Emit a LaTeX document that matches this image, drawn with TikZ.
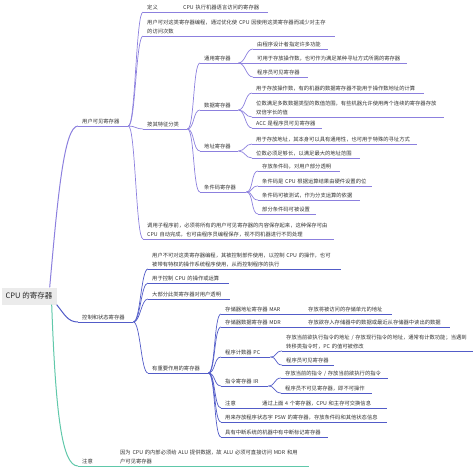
\documentclass[tikz,border=0pt]{standalone}
\usepackage{fontspec}
\setmainfont{Noto Sans CJK SC}

\begin{document}
\begin{tikzpicture}[x=1pt,y=-1pt,
    item/.style={anchor=south west, align=left, inner xsep=4pt, inner ysep=1.5pt,
        font=\fontsize{5.3pt}{9.3pt}\selectfont, text=black!80},
    rootbox/.style={fill=black!8, minimum width=55pt, minimum height=17pt, inner sep=2pt,
        font=\fontsize{7.5pt}{9pt}\selectfont, text=black!85},
    lnP/.style={draw={rgb,255:red,140;green,128;blue,222}, line width=0.7pt},
    lnB/.style={draw={rgb,255:red,82;green,92;blue,200}, line width=0.7pt},
    lnT/.style={draw={rgb,255:red,96;green,200;blue,170}, line width=0.7pt}]
    % --- 参数定义 ---
    \def\k{7}   % 连线控制点的水平距离

    \useasboundingbox (0,0) rectangle (474,475);

    % --- 1. 根节点 ---
    \node[rootbox] (root) at (29,296) {CPU 的寄存器};

    % --- 2. 用户可见寄存器 ---
    \node[item, text width=42] (user) at (78,126) {用户可见寄存器};
    \node[item, text width=28] (def) at (143,12) {定义};
    \node[item, text width=81] (defv) at (179,12) {CPU 执行机器语言访问的寄存器};
    \node[item, text width=184] (prog) at (143,36) {用户可对这类寄存器编程，通过优化使 CPU 因使用这类寄存器而减少对主存\\的访问次数};
    \node[item, text width=36] (feat) at (143,129) {按其特征分类};
    \node[item, text width=183] (save) at (143,239) {调用子程序前，必须将所有的用户可见寄存器的内容保存起来，这种保存可由\\CPU 自动完成，也可由程序员编程保存，视不同机器进行不同处理};

    % 通用寄存器
    \node[item, text width=30] (gen) at (200,63) {通用寄存器};
    \node[item, text width=67] (g1) at (253,49) {由程序设计者指定许多功能};
    \node[item, text width=146] (g2) at (253,63) {可用于存放操作数，也可作为满足某种寻址方式所需的寄存器};
    \node[item, text width=47] (g3) at (253,77) {程序员可见寄存器};

    % 数据寄存器
    \node[item, text width=30] (dat) at (200,110) {数据寄存器};
    \node[item, text width=164] (d1) at (252,93) {用于存放操作数，有的机器的数据寄存器不能用于操作数地址的计算};
    \node[item, text width=184] (d2) at (252,117) {位数满足多数数据类型的数值范围，有些机器允许使用两个连续的寄存器存放\\双倍字长的值};
    \node[item, text width=62] (d3) at (252,128) {ACC 是程序员可见寄存器};

    % 地址寄存器
    \node[item, text width=30] (adr) at (200,151) {地址寄存器};
    \node[item, text width=157] (a1) at (252,144) {用于存放地址，其本身可以具有通用性，也可用于特殊的寻址方式};
    \node[item, text width=100] (a2) at (252,158) {位数必须足够长，以满足最大的地址范围};

    % 条件码寄存器
    \node[item, text width=38] (cc) at (200,192) {条件码寄存器};
    \node[item, text width=74] (c1) at (258,171) {存放条件码，对用户部分透明};
    \node[item, text width=106] (c2) at (258,186) {条件码是 CPU 根据运算结果由硬件设置的位};
    \node[item, text width=94] (c3) at (258,200) {条件码可被测试，作为分支运算的依据};
    \node[item, text width=50] (c4) at (258,214) {部分条件码可被设置};

    % --- 3. 控制和状态寄存器 ---
    \node[item, text width=47] (ctl) at (78,322) {控制和状态寄存器};
    \node[item, text width=185] (k1) at (148,269) {用户不可对这类寄存器编程，其被控制部件使用，以控制 CPU 的操作，也可\\被带有特权的操作系统程序使用，从而控制程序的执行};
    \node[item, text width=73] (k2) at (148,283) {用于控制 CPU 的操作或运算};
    \node[item, text width=74] (k3) at (148,299) {大部分此类寄存器对用户透明};
    \node[item, text width=52] (imp) at (148,373) {有重要作用的寄存器};

    \node[item, text width=75] (mar) at (221,314) {存储器地址寄存器 MAR};
    \node[item, text width=80] (marv) at (304,314) {存放将被访问的存储单元的地址};
    \node[item, text width=75] (mdr) at (221,327) {存储器数据寄存器 MDR};
    \node[item, text width=138] (mdrv) at (304,327) {存放欲存入存储器中的数据或最近从存储器中读出的数据};
    \node[item, text width=41] (pc) at (221,357) {程序计数器 PC};
    \node[item, text width=183] (p1) at (282,351) {存放当前欲执行指令的地址 / 存放现行指令的地址，通常有计数功能；当遇到\\转移类指令时，PC 的值可被修改};
    \node[item, text width=44] (p2) at (282,365) {程序员可见寄存器};
    \node[item, text width=39] (ir) at (221,386) {指令寄存器 IR};
    \node[item, text width=99] (i1) at (281,378) {存放当前的指令 / 存放当前欲执行的指令};
    \node[item, text width=83] (i2) at (281,393) {程序员不可见寄存器，即不可操作};
    \node[item, text width=29] (tip) at (221,408) {注意};
    \node[item, text width=121] (tipv) at (258,408) {通过上面 4 个寄存器，CPU 和主存可交换信息};
    \node[item, text width=158] (psw) at (221,422) {用来存放程序状态字 PSW 的寄存器，存放条件码和其他状态信息};
    \node[item, text width=99] (intr) at (221,437) {具有中断系统的机器中有中断标记寄存器};

    % --- 4. 注意 ---
    \node[item, text width=30] (caution) at (78,466) {注意};
    \node[item, text width=185] (cautionv) at (116,466) {因为 CPU 的内部必须给 ALU 提供数据，故 ALU 必须可直接访问 MDR 和用\\户可见寄存器};

    % --- 5. 根节点的三条主干 ---
    \draw[lnP, line width=1pt] ([xshift=-7pt]root.north east) .. controls +(8,-90) and +(-14,0) .. (user.south west);
    \draw[lnB, line width=1pt] (root.south east) .. controls +(8,10) and +(-10,0) .. (ctl.south west);
    \draw[lnT, line width=1pt] ([xshift=-5pt]root.south east) .. controls +(4,110) and +(-16,0) .. (caution.south west);

    % --- 6. 下划线 ---
    \foreach \n in {user,def,defv,prog,feat,save,gen,g1,g2,g3,dat,d1,d2,d3,adr,a1,a2,cc,c1,c2,c3,c4}
        \draw[lnP] (\n.south west) -- (\n.south east);
    \foreach \n in {ctl,k1,k2,k3,imp,mar,marv,mdr,mdrv,pc,p1,p2,ir,i1,i2,tip,tipv,psw,intr}
        \draw[lnB] (\n.south west) -- (\n.south east);
    \foreach \n in {caution,cautionv}
        \draw[lnT] (\n.south west) -- (\n.south east);

    % --- 7. 分支连线 ---
    \foreach \a/\b in {user/def,user/prog,user/feat,user/save,def/defv,
            feat/gen,feat/dat,feat/adr,feat/cc,gen/g1,gen/g2,gen/g3,
            dat/d1,dat/d2,dat/d3,adr/a1,adr/a2,cc/c1,cc/c2,cc/c3,cc/c4}
        \draw[lnP] (\a.south east) .. controls +(\k,0) and +(-\k,0) .. (\b.south west);
    \foreach \a/\b in {ctl/k1,ctl/k2,ctl/k3,ctl/imp,imp/mar,imp/mdr,imp/pc,imp/ir,
            imp/tip,imp/psw,imp/intr,mar/marv,mdr/mdrv,pc/p1,pc/p2,ir/i1,ir/i2,tip/tipv}
        \draw[lnB] (\a.south east) .. controls +(\k,0) and +(-\k,0) .. (\b.south west);
    \draw[lnT] (caution.south east) -- (cautionv.south west);

\end{tikzpicture}
\end{document}
